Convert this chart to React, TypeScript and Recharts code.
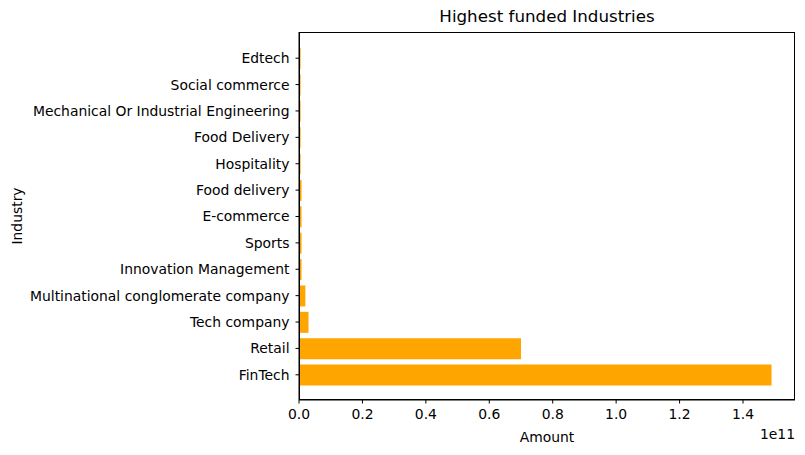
import React from 'react';
import { BarChart, Bar, XAxis, YAxis, Label } from 'recharts';

const industries = [
  'FinTech',
  'Retail',
  'Tech company',
  'Multinational conglomerate company',
  'Innovation Management',
  'Sports',
  'E-commerce',
  'Food delivery',
  'Hospitality',
  'Food Delivery',
  'Mechanical Or Industrial Engineering',
  'Social commerce',
  'Edtech',
];

const amounts = [
  1.49e11, 7.0e10, 3.0e9, 2.0e9, 0.8e9, 0.8e9, 0.8e9, 0.8e9, 0.5e9, 0.5e9, 0.5e9, 0.5e9, 0.5e9,
];

const xTicks = [0, 2e10, 4e10, 6e10, 8e10, 1e11, 1.2e11, 1.4e11];

const data = industries.map((name, i) => ({ name, amount: amounts[i] }));

const font = 'DejaVu Sans';
const tickStyle = { fontSize: 13.9, fill: '#000', fontFamily: font };

export default function App() {
  return (
    <div style={{ position: 'absolute', left: 0, top: 0, width: 805, height: 455, background: '#fff' }}>
      <div
        style={{
          position: 'absolute',
          left: 299,
          width: 496,
          top: 6,
          textAlign: 'center',
          fontFamily: font,
          fontSize: 16.7,
          color: '#000',
        }}
      >
        Highest funded Industries
      </div>
      <div
        style={{
          position: 'absolute',
          right: 10,
          top: 426,
          fontFamily: font,
          fontSize: 13.9,
          color: '#000',
        }}
      >
        1e11
      </div>
      <BarChart
        width={805}
        height={455}
        data={data}
        layout="vertical"
        margin={{ top: 32, right: 10, bottom: 0, left: 0 }}
      >
        <XAxis
          type="number"
          dataKey="amount"
          domain={[0, 1.564e11]}
          ticks={xTicks}
          allowDataOverflow
          tickFormatter={(v: number) => (v / 1e11).toFixed(1)}
          tick={tickStyle}
          tickSize={3.5}
          tickMargin={6}
          stroke="#000"
          height={55}
        >
          <Label value="Amount" position="insideBottom" offset={13} style={{ fontSize: 13.9, fill: '#000', fontFamily: font }} />
        </XAxis>
        <YAxis
          type="category"
          dataKey="name"
          reversed
          width={299}
          interval={0}
          padding={{ top: 13, bottom: 12 }}
          tick={tickStyle}
          tickSize={3.5}
          tickMargin={6}
          stroke="#000"
        >
          <Label value="Industry" angle={-90} position="insideLeft" offset={17} style={{ fontSize: 13.9, fill: '#000', fontFamily: font, textAnchor: 'middle' }} />
        </YAxis>
        <Bar dataKey="amount" fill="#FFA500" barSize={21} isAnimationActive={false} />
      </BarChart>
      <div
        style={{
          position: 'absolute',
          left: 298.5,
          top: 31.5,
          width: 496,
          height: 368,
          border: '1px solid #000',
          boxSizing: 'border-box',
          pointerEvents: 'none',
        }}
      />
    </div>
  );
}
